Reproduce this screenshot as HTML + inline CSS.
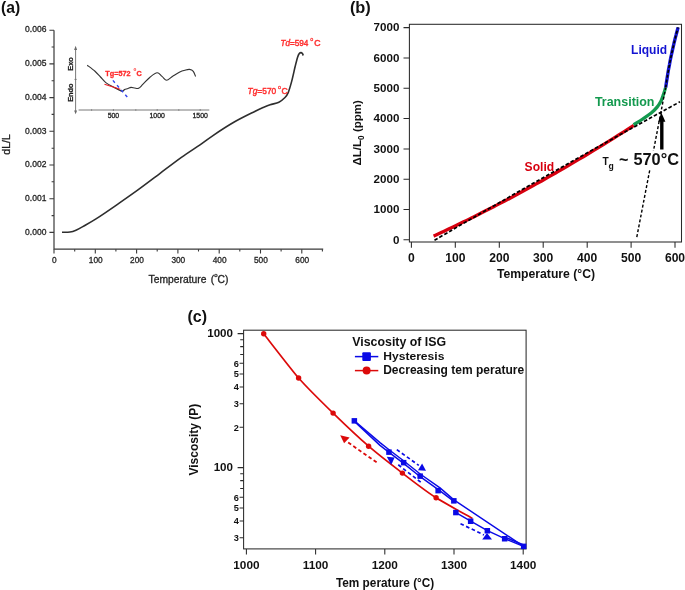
<!DOCTYPE html>
<html><head><meta charset="utf-8"><title>Figure</title>
<style>html,body{margin:0;padding:0;background:#fff;overflow:hidden}svg{display:block}</style>
</head><body>
<svg width="685" height="590" viewBox="0 0 685 590">
<rect width="685" height="590" fill="#fff"/>
<text x="1.0" y="12.8" text-anchor="start" style="font-family:'Liberation Sans',sans-serif;font-size:15.8px;font-weight:700" fill="#111" textLength="19.2" lengthAdjust="spacingAndGlyphs">(a)</text>
<path d="M54.0,30.2 V249.2 H323.2" fill="none" stroke="#3a3a3a" stroke-width="1.2"/>
<text x="46.4" y="234.6" text-anchor="end" style="font-family:'Liberation Sans',sans-serif;font-size:8.5px;font-weight:400" fill="#262626" stroke="#262626" stroke-width="0.3">0.000</text>
<text x="46.4" y="200.9" text-anchor="end" style="font-family:'Liberation Sans',sans-serif;font-size:8.5px;font-weight:400" fill="#262626" stroke="#262626" stroke-width="0.3">0.001</text>
<text x="46.4" y="167.2" text-anchor="end" style="font-family:'Liberation Sans',sans-serif;font-size:8.5px;font-weight:400" fill="#262626" stroke="#262626" stroke-width="0.3">0.002</text>
<text x="46.4" y="133.5" text-anchor="end" style="font-family:'Liberation Sans',sans-serif;font-size:8.5px;font-weight:400" fill="#262626" stroke="#262626" stroke-width="0.3">0.003</text>
<text x="46.4" y="99.8" text-anchor="end" style="font-family:'Liberation Sans',sans-serif;font-size:8.5px;font-weight:400" fill="#262626" stroke="#262626" stroke-width="0.3">0.004</text>
<text x="46.4" y="66.1" text-anchor="end" style="font-family:'Liberation Sans',sans-serif;font-size:8.5px;font-weight:400" fill="#262626" stroke="#262626" stroke-width="0.3">0.005</text>
<text x="46.4" y="32.4" text-anchor="end" style="font-family:'Liberation Sans',sans-serif;font-size:8.5px;font-weight:400" fill="#262626" stroke="#262626" stroke-width="0.3">0.006</text>
<text x="54.4" y="263.2" text-anchor="middle" style="font-family:'Liberation Sans',sans-serif;font-size:8.3px;font-weight:400" fill="#262626" stroke="#262626" stroke-width="0.3">0</text>
<text x="95.7" y="263.2" text-anchor="middle" style="font-family:'Liberation Sans',sans-serif;font-size:8.3px;font-weight:400" fill="#262626" stroke="#262626" stroke-width="0.3">100</text>
<text x="137.0" y="263.2" text-anchor="middle" style="font-family:'Liberation Sans',sans-serif;font-size:8.3px;font-weight:400" fill="#262626" stroke="#262626" stroke-width="0.3">200</text>
<text x="178.3" y="263.2" text-anchor="middle" style="font-family:'Liberation Sans',sans-serif;font-size:8.3px;font-weight:400" fill="#262626" stroke="#262626" stroke-width="0.3">300</text>
<text x="219.6" y="263.2" text-anchor="middle" style="font-family:'Liberation Sans',sans-serif;font-size:8.3px;font-weight:400" fill="#262626" stroke="#262626" stroke-width="0.3">400</text>
<text x="260.9" y="263.2" text-anchor="middle" style="font-family:'Liberation Sans',sans-serif;font-size:8.3px;font-weight:400" fill="#262626" stroke="#262626" stroke-width="0.3">500</text>
<text x="302.2" y="263.2" text-anchor="middle" style="font-family:'Liberation Sans',sans-serif;font-size:8.3px;font-weight:400" fill="#262626" stroke="#262626" stroke-width="0.3">600</text>
<path d="M49.4,232.4 H54.0 M49.4,198.7 H54.0 M49.4,165.0 H54.0 M49.4,131.3 H54.0 M49.4,97.6 H54.0 M49.4,63.9 H54.0 M49.4,30.2 H54.0 M51.6,215.6 H54.0 M51.6,181.8 H54.0 M51.6,148.2 H54.0 M51.6,114.4 H54.0 M51.6,80.8 H54.0 M51.6,47.0 H54.0 M54.0,249.2 V253.6 M95.3,249.2 V253.6 M136.6,249.2 V253.6 M177.9,249.2 V253.6 M219.2,249.2 V253.6 M260.5,249.2 V253.6 M301.8,249.2 V253.6 M74.7,249.2 V251.6 M115.9,249.2 V251.6 M157.2,249.2 V251.6 M198.5,249.2 V251.6 M239.8,249.2 V251.6 M281.1,249.2 V251.6 M322.4,249.2 V251.6" stroke="#3a3a3a" stroke-width="1.1" fill="none"/>
<text x="148.6" y="283.4" text-anchor="start" style="font-family:'Liberation Sans',sans-serif;font-size:10.3px;font-weight:400" fill="#1e1e1e" stroke="#1e1e1e" stroke-width="0.3">Temperature</text>
<text x="210.8" y="283.4" text-anchor="start" style="font-family:'Liberation Sans',sans-serif;font-size:10.3px;font-weight:400" fill="#1e1e1e" stroke="#1e1e1e" stroke-width="0.3">(</text>
<text x="214.3" y="276.8" text-anchor="start" style="font-family:'Liberation Sans',sans-serif;font-size:6.0px;font-weight:400" fill="#1e1e1e" stroke="#1e1e1e" stroke-width="0.3">o</text>
<text x="217.5" y="283.4" text-anchor="start" style="font-family:'Liberation Sans',sans-serif;font-size:10.3px;font-weight:400" fill="#1e1e1e" stroke="#1e1e1e" stroke-width="0.3">C)</text>
<text transform="translate(9.7,144.5) rotate(-90)" text-anchor="middle" style="font-family:'Liberation Sans',sans-serif;font-size:10.8px;font-weight:400" fill="#1e1e1e" textLength="20.4" lengthAdjust="spacingAndGlyphs" stroke="#1e1e1e" stroke-width="0.3">dL/L</text>
<path d="M62.0,232.2 C63.3,232.2 67.7,232.3 70.0,232.0 C72.3,231.7 73.9,231.1 76.0,230.2 C78.1,229.3 79.5,228.5 82.8,226.6 C86.1,224.7 90.5,222.4 96.0,218.9 C101.5,215.4 108.8,210.4 115.7,205.6 C122.6,200.8 130.3,195.5 137.6,190.2 C144.9,184.9 152.2,179.3 159.5,173.8 C166.8,168.3 174.7,162.2 181.4,157.4 C188.2,152.6 194.9,148.4 200.0,144.9 C205.1,141.4 206.3,140.1 211.9,136.3 C217.5,132.5 226.5,126.5 233.8,122.3 C241.1,118.1 250.8,113.5 255.7,111.0 C260.6,108.5 260.6,108.6 263.0,107.6 C265.4,106.6 267.5,105.7 270.1,104.8 C272.8,103.9 276.4,103.4 278.9,102.2 C281.4,101.0 283.4,99.1 285.0,97.5 C286.6,95.9 287.1,95.2 288.2,92.6 C289.3,89.9 290.4,86.0 291.6,81.6 C292.8,77.2 294.2,70.4 295.2,66.3 C296.2,62.2 296.9,59.3 297.6,57.2 C298.3,55.1 298.7,54.4 299.3,53.6 C299.9,52.8 300.5,52.6 301.0,52.6 C301.5,52.6 302.0,53.1 302.4,53.6 C302.8,54.1 303.1,55.2 303.3,55.5" fill="none" stroke="#2e2e2e" stroke-width="1.6"/>
<text x="247.6" y="94.4" text-anchor="start" style="font-family:'Liberation Sans',sans-serif;font-size:8.7px;font-weight:400" fill="#ff3030" textLength="28.6" lengthAdjust="spacingAndGlyphs" stroke="#ff3030" stroke-width="0.45"><tspan font-style="italic">Tg</tspan>=570</text>
<text x="277.9" y="88.7" text-anchor="start" style="font-family:'Liberation Sans',sans-serif;font-size:5.4px;font-weight:400" fill="#ff3030" stroke="#ff3030" stroke-width="0.3">o</text>
<text x="281.5" y="94.4" text-anchor="start" style="font-family:'Liberation Sans',sans-serif;font-size:8.7px;font-weight:400" fill="#ff3030" stroke="#ff3030" stroke-width="0.45">C</text>
<text x="280.4" y="46.4" text-anchor="start" style="font-family:'Liberation Sans',sans-serif;font-size:8.7px;font-weight:400" fill="#ff3030" textLength="28.0" lengthAdjust="spacingAndGlyphs" stroke="#ff3030" stroke-width="0.45"><tspan font-style="italic">Td</tspan>=594</text>
<text x="310.2" y="40.8" text-anchor="start" style="font-family:'Liberation Sans',sans-serif;font-size:5.4px;font-weight:400" fill="#ff3030" stroke="#ff3030" stroke-width="0.3">o</text>
<text x="314.2" y="46.4" text-anchor="start" style="font-family:'Liberation Sans',sans-serif;font-size:8.7px;font-weight:400" fill="#ff3030" stroke="#ff3030" stroke-width="0.45">C</text>
<path d="M75.6,47.5 V112.5 M78.6,110 H209.3" stroke="#6a6a6a" stroke-width="0.9" fill="none"/>
<path d="M74.1,50 L75.6,45.8 L77.1,50 Z M74.1,110.5 L75.6,114.2 L77.1,110.5 Z" fill="#6a6a6a"/>
<path d="M74.4,79.4 H76.8 M91.6,109.2 V110.8 M113.4,109 V111 M135.8,109.2 V110.8 M157.2,109 V111 M178.8,109.2 V110.8 M200.2,109 V111" stroke="#6a6a6a" stroke-width="0.7"/>
<text x="113.4" y="118.3" text-anchor="middle" style="font-family:'Liberation Sans',sans-serif;font-size:6.9px;font-weight:400" fill="#222" stroke="#222" stroke-width="0.3">500</text>
<text x="157.2" y="118.3" text-anchor="middle" style="font-family:'Liberation Sans',sans-serif;font-size:6.9px;font-weight:400" fill="#222" stroke="#222" stroke-width="0.3">1000</text>
<text x="200.2" y="118.3" text-anchor="middle" style="font-family:'Liberation Sans',sans-serif;font-size:6.9px;font-weight:400" fill="#222" stroke="#222" stroke-width="0.3">1500</text>
<text transform="translate(73.4,64) rotate(-90)" text-anchor="middle" style="font-family:'Liberation Sans',sans-serif;font-size:7.4px;font-weight:700" fill="#1e1e1e" stroke="#1e1e1e" stroke-width="0.25">Exo</text>
<text transform="translate(73.4,92.6) rotate(-90)" text-anchor="middle" style="font-family:'Liberation Sans',sans-serif;font-size:7.4px;font-weight:700" fill="#1e1e1e" stroke="#1e1e1e" stroke-width="0.25">Endo</text>
<path d="M87.2,65.2 C88.5,66.2 92.8,69.2 95.0,71.2 C97.2,73.2 98.7,75.1 100.5,77.0 C102.3,78.9 103.7,81.0 105.8,82.6 C107.9,84.2 110.3,85.4 113.0,86.8 C115.7,88.2 119.9,90.6 121.8,91.1 C123.7,91.6 123.5,90.0 124.5,89.6 C125.5,89.2 126.9,88.9 128.0,88.5 C129.1,88.1 129.9,87.5 131.0,87.4 C132.1,87.3 133.4,87.8 134.7,88.0 C136.0,88.2 137.2,88.9 138.6,88.3 C140.0,87.7 141.1,86.0 143.0,84.2 C144.9,82.4 147.6,79.1 150.0,77.2 C152.4,75.3 155.2,72.9 157.2,72.8 C159.2,72.7 160.4,75.2 162.0,76.4 C163.6,77.6 164.8,80.2 166.6,80.2 C168.4,80.2 170.4,77.6 172.7,76.2 C175.0,74.8 178.3,72.7 180.3,71.7 C182.3,70.7 183.4,70.6 184.9,70.2 C186.4,69.8 188.1,69.2 189.5,69.4 C190.9,69.6 192.3,70.1 193.3,71.3 C194.3,72.5 195.2,75.7 195.6,76.6" fill="none" stroke="#333" stroke-width="1.15"/>
<path d="M104.5,84.2 L120.2,89.3" stroke="#ee1c24" stroke-width="1.1"/>
<path d="M112.9,80.4 L127.9,97.7" stroke="#3344ee" stroke-width="1.4" stroke-dasharray="3,3.3"/>
<text x="105.3" y="76.4" text-anchor="start" style="font-family:'Liberation Sans',sans-serif;font-size:7.2px;font-weight:700" fill="#ff2a2a" textLength="25.2" lengthAdjust="spacingAndGlyphs" stroke="#ff2a2a" stroke-width="0.3">Tg=572</text>
<text x="133.4" y="71.1" text-anchor="start" style="font-family:'Liberation Sans',sans-serif;font-size:4.6px;font-weight:700" fill="#ff2a2a">o</text>
<text x="136.4" y="76.4" text-anchor="start" style="font-family:'Liberation Sans',sans-serif;font-size:7.2px;font-weight:700" fill="#ff2a2a" stroke="#ff2a2a" stroke-width="0.3">C</text>
<text x="349.9" y="13.1" text-anchor="start" style="font-family:'Liberation Sans',sans-serif;font-size:15.8px;font-weight:700" fill="#111" textLength="20.9" lengthAdjust="spacingAndGlyphs">(b)</text>
<rect x="409.4" y="24.3" width="272.1" height="217.7" fill="none" stroke="#2a2a2a" stroke-width="1.05"/>
<text x="399.4" y="243.5" text-anchor="end" style="font-family:'Liberation Sans',sans-serif;font-size:11.6px;font-weight:700" fill="#111">0</text>
<text x="399.4" y="213.2" text-anchor="end" style="font-family:'Liberation Sans',sans-serif;font-size:11.6px;font-weight:700" fill="#111">1000</text>
<text x="399.4" y="182.9" text-anchor="end" style="font-family:'Liberation Sans',sans-serif;font-size:11.6px;font-weight:700" fill="#111">2000</text>
<text x="399.4" y="152.6" text-anchor="end" style="font-family:'Liberation Sans',sans-serif;font-size:11.6px;font-weight:700" fill="#111">3000</text>
<text x="399.4" y="122.2" text-anchor="end" style="font-family:'Liberation Sans',sans-serif;font-size:11.6px;font-weight:700" fill="#111">4000</text>
<text x="399.4" y="91.9" text-anchor="end" style="font-family:'Liberation Sans',sans-serif;font-size:11.6px;font-weight:700" fill="#111">5000</text>
<text x="399.4" y="61.6" text-anchor="end" style="font-family:'Liberation Sans',sans-serif;font-size:11.6px;font-weight:700" fill="#111">6000</text>
<text x="399.4" y="31.3" text-anchor="end" style="font-family:'Liberation Sans',sans-serif;font-size:11.6px;font-weight:700" fill="#111">7000</text>
<text x="411.4" y="261.9" text-anchor="middle" style="font-family:'Liberation Sans',sans-serif;font-size:12.1px;font-weight:700" fill="#111">0</text>
<text x="455.3" y="261.9" text-anchor="middle" style="font-family:'Liberation Sans',sans-serif;font-size:12.1px;font-weight:700" fill="#111">100</text>
<text x="499.3" y="261.9" text-anchor="middle" style="font-family:'Liberation Sans',sans-serif;font-size:12.1px;font-weight:700" fill="#111">200</text>
<text x="543.2" y="261.9" text-anchor="middle" style="font-family:'Liberation Sans',sans-serif;font-size:12.1px;font-weight:700" fill="#111">300</text>
<text x="587.2" y="261.9" text-anchor="middle" style="font-family:'Liberation Sans',sans-serif;font-size:12.1px;font-weight:700" fill="#111">400</text>
<text x="631.1" y="261.9" text-anchor="middle" style="font-family:'Liberation Sans',sans-serif;font-size:12.1px;font-weight:700" fill="#111">500</text>
<text x="675.0" y="261.9" text-anchor="middle" style="font-family:'Liberation Sans',sans-serif;font-size:12.1px;font-weight:700" fill="#111">600</text>
<path d="M403.5,239.8 H409.4 M403.5,209.5 H409.4 M403.5,179.2 H409.4 M403.5,148.9 H409.4 M403.5,118.5 H409.4 M403.5,88.2 H409.4 M403.5,57.9 H409.4 M403.5,27.6 H409.4 M411.4,242.0 V247.8 M455.3,242.0 V247.8 M499.3,242.0 V247.8 M543.2,242.0 V247.8 M587.2,242.0 V247.8 M631.1,242.0 V247.8 M675.0,242.0 V247.8" stroke="#2a2a2a" stroke-width="1.05" fill="none"/>
<text x="496.9" y="277.9" text-anchor="start" style="font-family:'Liberation Sans',sans-serif;font-size:12px;font-weight:700" fill="#111" textLength="98.2" lengthAdjust="spacingAndGlyphs">Temperature (°C)</text>
<text transform="translate(360.9,132.8) rotate(-90)" text-anchor="middle" style="font-family:'Liberation Sans',sans-serif;font-weight:700;font-size:11.7px" fill="#111" textLength="65.5" lengthAdjust="spacingAndGlyphs">ΔL/L<tspan dy="2.6" font-size="8.4px">0</tspan><tspan dy="-2.6"> (ppm)</tspan></text>
<path d="M433.6,236.1 C435.3,235.4 440.3,233.0 443.6,231.5 C446.9,229.9 450.3,228.3 453.6,226.7 C457.0,225.1 460.3,223.5 463.6,221.8 C467.0,220.2 470.3,218.5 473.6,216.9 C477.0,215.2 480.3,213.5 483.6,211.8 C487.0,210.1 490.3,208.4 493.7,206.7 C497.0,205.0 500.3,203.2 503.7,201.5 C507.0,199.7 510.3,198.0 513.7,196.2 C517.0,194.4 520.4,192.6 523.7,190.8 C527.0,189.0 530.4,187.1 533.7,185.3 C537.0,183.4 540.4,181.6 543.7,179.7 C547.0,177.8 550.4,175.9 553.7,174.0 C557.1,172.1 560.4,170.2 563.7,168.3 C567.1,166.3 570.4,164.4 573.7,162.4 C577.1,160.4 580.4,158.5 583.8,156.5 C587.1,154.5 590.4,152.5 593.8,150.4 C597.1,148.4 600.4,146.4 603.8,144.3 C607.1,142.2 610.4,140.2 613.8,138.1 C617.1,136.0 620.5,133.9 623.8,131.8 C627.1,129.7 632.1,126.5 633.8,125.4" fill="none" stroke="#d7000f" stroke-width="3.3"/>
<path d="M633.6,124.9 C635.1,123.9 639.8,121.0 642.7,119.0 C645.6,117.0 648.8,115.0 651.2,113.0 C653.6,111.0 655.5,109.1 657.1,107.1 C658.7,105.1 659.8,103.3 660.9,101.2 C662.0,99.1 662.7,96.7 663.5,94.4 C664.3,92.1 665.2,88.7 665.6,87.6" fill="none" stroke="#13994e" stroke-width="3.3"/>
<path d="M665.7,87.6 C665.9,86.3 666.4,82.6 666.8,80.1 C667.2,77.6 667.6,75.1 668.0,72.5 C668.4,70.0 668.9,67.5 669.4,65.0 C669.8,62.5 670.3,60.0 670.8,57.5 C671.4,55.0 671.9,52.5 672.5,50.0 C673.0,47.5 673.6,45.0 674.2,42.4 C674.8,39.9 675.4,37.4 676.1,34.9 C676.7,32.4 677.8,28.7 678.1,27.4" fill="none" stroke="#1414d2" stroke-width="3.4"/>
<path d="M665.7,87.6 C665.9,86.3 666.4,82.6 666.8,80.1 C667.2,77.6 667.6,75.1 668.0,72.5 C668.4,70.0 668.9,67.5 669.4,65.0 C669.8,62.5 670.3,60.0 670.8,57.5 C671.4,55.0 671.9,52.5 672.5,50.0 C673.0,47.5 673.6,45.0 674.2,42.4 C674.8,39.9 675.4,37.4 676.1,34.9 C676.7,32.4 677.8,28.7 678.1,27.4" fill="none" stroke="#000" stroke-width="1.7" stroke-dasharray="3,2"/>
<path d="M434.5,240.2 C437.2,238.7 445.4,233.9 450.9,230.7 C456.3,227.5 461.8,224.3 467.2,221.2 C472.7,218.0 478.1,214.9 483.6,211.7 C489.1,208.6 494.5,205.4 500.0,202.3 C505.4,199.2 510.9,196.0 516.3,192.9 C521.8,189.8 527.2,186.7 532.7,183.6 C538.2,180.5 543.6,177.4 549.1,174.3 C554.5,171.2 560.0,168.2 565.4,165.1 C570.9,162.0 576.3,159.0 581.8,155.9 C587.3,152.9 592.7,149.8 598.2,146.8 C603.6,143.8 609.1,140.7 614.5,137.7 C620.0,134.7 625.4,131.7 630.9,128.7 C636.4,125.7 641.8,122.7 647.3,119.7 C652.7,116.7 658.2,113.7 663.6,110.7 C669.1,107.8 677.3,103.3 680.0,101.8" fill="none" stroke="#000" stroke-width="1.7" stroke-dasharray="3.6,2"/>
<path d="M636.8,237.1 L665.6,88" fill="none" stroke="#000" stroke-width="1.4" stroke-dasharray="3,2"/>
<path d="M661.8,149.5 V120" stroke="#000" stroke-width="3.4"/>
<path d="M658.2,121.8 L665.4,121.8 L661.3,112.4 Z" fill="#000"/>
<text x="631.1" y="53.9" style="font-family:'Liberation Sans',sans-serif;font-weight:700;font-size:12px" fill="#1414d2">Liquid</text>
<text x="594.9" y="106.2" text-anchor="start" style="font-family:'Liberation Sans',sans-serif;font-size:12.1px;font-weight:700" fill="#13994e" textLength="59.6" lengthAdjust="spacingAndGlyphs">Transition</text>
<text x="524.6" y="171.1" text-anchor="start" style="font-family:'Liberation Sans',sans-serif;font-size:12.3px;font-weight:700" fill="#d7000f" textLength="29.6" lengthAdjust="spacingAndGlyphs">Solid</text>
<rect x="600" y="150.6" width="80.5" height="19" fill="#fff"/>
<text x="602.4" y="165.4" text-anchor="start" style="font-family:'Liberation Sans',sans-serif;font-size:10.2px;font-weight:700" fill="#111">T</text>
<text x="608.5" y="168.6" text-anchor="start" style="font-family:'Liberation Sans',sans-serif;font-size:8.6px;font-weight:700" fill="#111">g</text>
<text x="618.9" y="165.4" text-anchor="start" style="font-family:'Liberation Sans',sans-serif;font-size:16.2px;font-weight:700" fill="#111">~</text>
<text x="633.4" y="165.4" text-anchor="start" style="font-family:'Liberation Sans',sans-serif;font-size:16.4px;font-weight:700" fill="#111" textLength="45.6" lengthAdjust="spacingAndGlyphs">570°C</text>
<text x="187.5" y="322.2" text-anchor="start" style="font-family:'Liberation Sans',sans-serif;font-size:15.8px;font-weight:700" fill="#111" textLength="19.6" lengthAdjust="spacingAndGlyphs">(c)</text>
<rect x="243.6" y="330.2" width="282.5" height="218.7" fill="none" stroke="#2a2a2a" stroke-width="1.05"/>
<text x="233.0" y="337.4" text-anchor="end" style="font-family:'Liberation Sans',sans-serif;font-size:11.6px;font-weight:700" fill="#111">1000</text>
<text x="233.0" y="471.4" text-anchor="end" style="font-family:'Liberation Sans',sans-serif;font-size:11.6px;font-weight:700" fill="#111">100</text>
<text x="238.9" y="430.6" text-anchor="end" style="font-family:'Liberation Sans',sans-serif;font-size:9.2px;font-weight:700" fill="#111">2</text>
<text x="238.9" y="407.0" text-anchor="end" style="font-family:'Liberation Sans',sans-serif;font-size:9.2px;font-weight:700" fill="#111">3</text>
<text x="238.9" y="390.2" text-anchor="end" style="font-family:'Liberation Sans',sans-serif;font-size:9.2px;font-weight:700" fill="#111">4</text>
<text x="238.9" y="377.2" text-anchor="end" style="font-family:'Liberation Sans',sans-serif;font-size:9.2px;font-weight:700" fill="#111">5</text>
<text x="238.9" y="366.6" text-anchor="end" style="font-family:'Liberation Sans',sans-serif;font-size:9.2px;font-weight:700" fill="#111">6</text>
<text x="238.9" y="541.0" text-anchor="end" style="font-family:'Liberation Sans',sans-serif;font-size:9.2px;font-weight:700" fill="#111">3</text>
<text x="238.9" y="524.2" text-anchor="end" style="font-family:'Liberation Sans',sans-serif;font-size:9.2px;font-weight:700" fill="#111">4</text>
<text x="238.9" y="511.2" text-anchor="end" style="font-family:'Liberation Sans',sans-serif;font-size:9.2px;font-weight:700" fill="#111">5</text>
<text x="238.9" y="500.6" text-anchor="end" style="font-family:'Liberation Sans',sans-serif;font-size:9.2px;font-weight:700" fill="#111">6</text>
<text x="246.4" y="569.1" text-anchor="middle" style="font-family:'Liberation Sans',sans-serif;font-size:11.8px;font-weight:700" fill="#111">1000</text>
<text x="315.6" y="569.1" text-anchor="middle" style="font-family:'Liberation Sans',sans-serif;font-size:11.8px;font-weight:700" fill="#111">1100</text>
<text x="384.8" y="569.1" text-anchor="middle" style="font-family:'Liberation Sans',sans-serif;font-size:11.8px;font-weight:700" fill="#111">1200</text>
<text x="454.0" y="569.1" text-anchor="middle" style="font-family:'Liberation Sans',sans-serif;font-size:11.8px;font-weight:700" fill="#111">1300</text>
<text x="523.2" y="569.1" text-anchor="middle" style="font-family:'Liberation Sans',sans-serif;font-size:11.8px;font-weight:700" fill="#111">1400</text>
<path d="M237.6,333.6 H243.6 M237.6,467.6 H243.6 M239.6,427.3 H243.6 M239.6,403.7 H243.6 M239.6,386.9 H243.6 M239.6,373.9 H243.6 M239.6,363.3 H243.6 M240.2,354.4 H243.6 M240.2,346.6 H243.6 M240.2,339.7 H243.6 M239.6,537.7 H243.6 M239.6,520.9 H243.6 M239.6,507.9 H243.6 M239.6,497.3 H243.6 M240.2,488.4 H243.6 M240.2,480.6 H243.6 M240.2,473.7 H243.6 M246.4,548.9 V554.5 M315.6,548.9 V554.5 M384.8,548.9 V554.5 M454.0,548.9 V554.5 M523.2,548.9 V554.5" stroke="#2a2a2a" stroke-width="1.05" fill="none"/>
<text x="335.9" y="586.6" text-anchor="start" style="font-family:'Liberation Sans',sans-serif;font-size:12px;font-weight:700" fill="#111" textLength="98.4" lengthAdjust="spacingAndGlyphs">Tem perature (°C)</text>
<text transform="translate(197.7,439.6) rotate(-90)" text-anchor="middle" style="font-family:'Liberation Sans',sans-serif;font-weight:700;font-size:12px" fill="#111">Viscosity (P)</text>
<text x="352.3" y="345.7" text-anchor="start" style="font-family:'Liberation Sans',sans-serif;font-size:12.1px;font-weight:700" fill="#111" textLength="93.8" lengthAdjust="spacingAndGlyphs">Viscosity of ISG</text>
<text x="383.2" y="360.4" text-anchor="start" style="font-family:'Liberation Sans',sans-serif;font-size:11.8px;font-weight:700" fill="#111" textLength="61.2" lengthAdjust="spacingAndGlyphs">Hysteresis</text>
<text x="383.2" y="373.9" text-anchor="start" style="font-family:'Liberation Sans',sans-serif;font-size:11.9px;font-weight:700" fill="#111" textLength="140.9" lengthAdjust="spacingAndGlyphs">Decreasing tem perature</text>
<path d="M354.9,356.6 H378.3" stroke="#0a0ae6" stroke-width="1.5"/>
<rect x="362.3" y="352.3" width="8.6" height="8.6" rx="1" fill="#0a0ae6"/>
<path d="M354.9,370.6 H378.3" stroke="#dc0a0a" stroke-width="1.5"/>
<circle cx="366.6" cy="370.5" r="4" fill="#dc0a0a"/>
<path d="M263.7,333.8 C267.2,338.2 291.7,370.1 298.6,378.0 C305.5,385.9 326.1,406.3 333.1,413.1 C340.1,419.9 361.7,440.2 368.6,446.2 C375.5,452.2 395.6,467.9 402.4,473.1 C409.1,478.3 429.1,493.3 436.1,497.8 C443.1,502.3 468.8,516.4 472.4,518.5" fill="none" stroke="#dc0a0a" stroke-width="1.7"/>
<circle cx="263.7" cy="333.8" r="2.7" fill="#dc0a0a"/>
<circle cx="298.6" cy="378" r="2.7" fill="#dc0a0a"/>
<circle cx="333.1" cy="413.1" r="2.7" fill="#dc0a0a"/>
<circle cx="368.6" cy="446.2" r="2.7" fill="#dc0a0a"/>
<circle cx="402.4" cy="473.1" r="2.7" fill="#dc0a0a"/>
<circle cx="436.1" cy="497.8" r="2.7" fill="#dc0a0a"/>
<path d="M376.6,462.3 L346.1,441.1" stroke="#dc0a0a" stroke-width="1.8" stroke-dasharray="3.6,2.6"/>
<path d="M340.2,435.2 L349.6,437.4 L344.1,443.2 Z" fill="#dc0a0a"/>
<path d="M354.4,420.8 L380.0,442.6 L389.7,450.2 L403.9,461.0 L420.2,474.0 L440.0,487.9 L453.9,499.9 L523.5,546.3" fill="none" stroke="#0a0ae6" stroke-width="1.45" stroke-linejoin="round"/>
<path d="M354.4,421.4 L380.0,445.4 L389.7,452.9 L403.9,463.6 L420.2,476.7 L440.0,490.8 L453.9,501.4" fill="none" stroke="#0a0ae6" stroke-width="1.45" stroke-linejoin="round"/>
<path d="M455.9,512.5 L470.7,521.2 L487.4,530.7 L504.7,538.7 L523.5,546.4" fill="none" stroke="#0a0ae6" stroke-width="1.45" stroke-linejoin="round"/>
<path d="M504.7,537.0 L523.5,545.0" fill="none" stroke="#0a0ae6" stroke-width="1.45" stroke-linejoin="round"/>
<rect x="351.6" y="418.1" width="5.5" height="5.5" fill="#0a0ae6"/>
<rect x="386.2" y="449.4" width="5.5" height="5.5" fill="#0a0ae6"/>
<rect x="400.9" y="459.9" width="5.5" height="5.5" fill="#0a0ae6"/>
<rect x="417.4" y="473.4" width="5.5" height="5.5" fill="#0a0ae6"/>
<rect x="435.4" y="487.9" width="5.5" height="5.5" fill="#0a0ae6"/>
<rect x="451.1" y="498.1" width="5.5" height="5.5" fill="#0a0ae6"/>
<rect x="453.1" y="509.8" width="5.5" height="5.5" fill="#0a0ae6"/>
<rect x="467.9" y="518.5" width="5.5" height="5.5" fill="#0a0ae6"/>
<rect x="484.6" y="528.0" width="5.5" height="5.5" fill="#0a0ae6"/>
<rect x="501.9" y="536.0" width="5.5" height="5.5" fill="#0a0ae6"/>
<rect x="520.9" y="543.6" width="5.5" height="5.5" fill="#0a0ae6"/>
<path d="M396.8,449.6 L418.8,465.4" stroke="#0a0ae6" stroke-width="1.7" stroke-dasharray="3.6,2.6"/>
<path d="M422.1,463.4 L426.0,470.8 L418.0,470.2 Z" fill="#0a0ae6"/>
<path d="M420.7,482.2 L397.5,464.2" stroke="#0a0ae6" stroke-width="1.7" stroke-dasharray="3.6,2.6"/>
<path d="M386.8,456.8 L394.6,457.4 L391.2,465.0 Z" fill="#0a0ae6"/>
<path d="M460.5,523.7 L483.9,534.9" stroke="#0a0ae6" stroke-width="1.7" stroke-dasharray="3.6,2.6"/>
<path d="M487.0,533.0 L492.0,539.6 L482.2,539.6 Z" fill="#0a0ae6"/>
</svg>
</body></html>
